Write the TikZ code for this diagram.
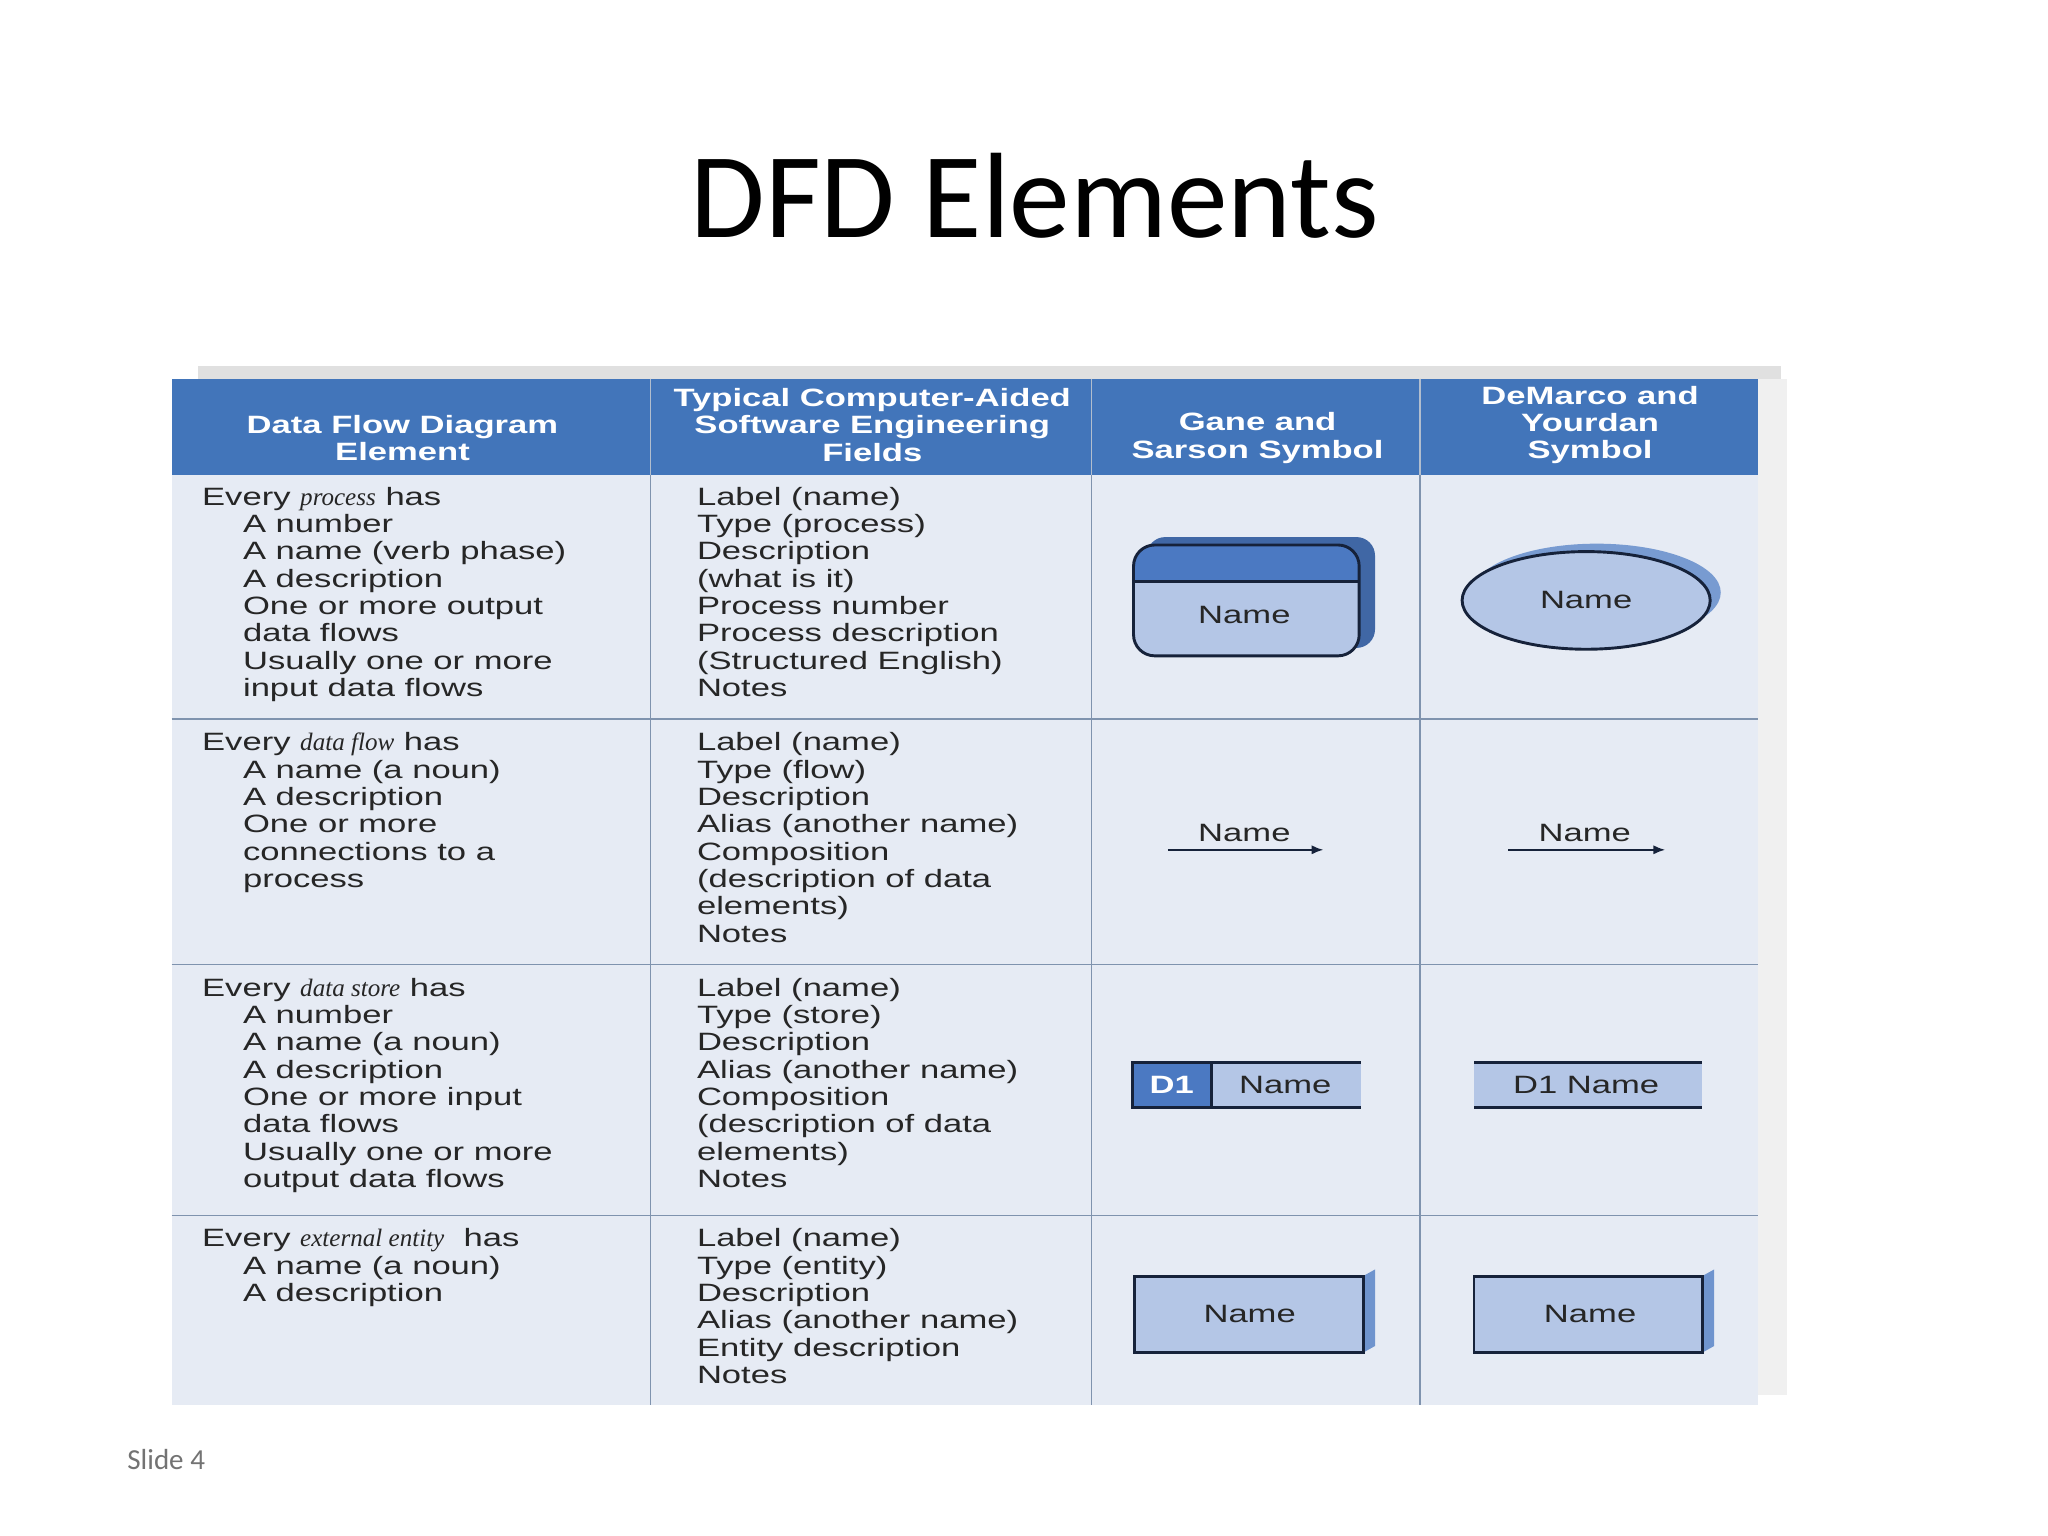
\documentclass[tikz,border=0pt]{standalone}
\usepackage{fontspec}
\setmainfont{Carlito}
\newfontfamily\tbl[FakeStretch=1.38]{Liberation Sans}
\newfontfamily\tit[]{Liberation Serif}
\usetikzlibrary{shapes.geometric,arrows.meta}
\definecolor{hdr}{HTML}{4275BA}
\definecolor{cellbg}{HTML}{E6EBF4}
\definecolor{grid}{HTML}{7F93AE}
\definecolor{symfill}{HTML}{B4C6E6}
\definecolor{symdark}{HTML}{4B79C2}
\definecolor{symedge}{HTML}{16223A}
\newcommand{\itx}[1]{{\tit\itshape #1}}
\tikzset{
 body/.style={anchor=north west,align=left,inner sep=0pt,font=\tbl\fontsize{19}{20.7}\selectfont,text=black!85},
 head/.style={align=center,inner sep=0pt,font=\tbl\bfseries\fontsize{19}{20.7}\selectfont,text=white},
 symtxt/.style={inner sep=0pt,font=\tbl\fontsize{19}{20.7}\selectfont,text=black!85},
 edge3d/.style={fill=symdark!85!black},
 outl/.style={draw=symedge,line width=2.2pt}
}
\begin{document}
\begin{tikzpicture}[x=1pt,y=-1pt]
\useasboundingbox (0,0) rectangle (1552,1164);
\fill[white] (0,0) rectangle (1552,1164);
\node[font=\fontsize{92}{100}\selectfont] (title) at (784,148) {DFD Elements};
\node[font=\fontsize{22}{24}\selectfont,text=black!55,anchor=west] (slide) at (93,1106) {Slide 4};
% shadow
\fill[black!12] (150,277) rectangle (1350,1057);
\fill[black!6] (1332,287) rectangle (1354,1057);
% table
\fill[cellbg] (130,287) rectangle (1332,1065);
\fill[hdr] (130,287) rectangle (1332,360);
\foreach \x in {493,827,1076}{\draw[grid,line width=1.2pt] (\x,287) -- (\x,1065);}
\draw[grid!60,line width=1.2pt] (493,287) -- (493,360) (827,287)--(827,360) (1076,287)--(1076,360);
\foreach \y in {545,731,921}{\draw[grid,line width=1.2pt] (130,\y) -- (1332,\y);}
% headers
\node[head] (h1) at (305,332) {Data Flow Diagram\\Element};
\node[head] (h2) at (661,322) {Typical Computer-Aided\\Software Engineering\\Fields};
\node[head] (h3) at (953,332) {Gane and\\Sarson Symbol};
\node[head] (h4) at (1205,322) {DeMarco and\\Yourdan\\Symbol};
% column 1
\node[body] (c11) at (153,369) {Every \itx{process} has\\
\hspace*{31pt}A number\\
\hspace*{31pt}A name (verb phase)\\
\hspace*{31pt}A description\\
\hspace*{31pt}One or more output\\
\hspace*{31pt}data flows\\
\hspace*{31pt}Usually one or more\\
\hspace*{31pt}input data flows};
\node[body] (c12) at (153,555) {Every \itx{data flow} has\\
\hspace*{31pt}A name (a noun)\\
\hspace*{31pt}A description\\
\hspace*{31pt}One or more\\
\hspace*{31pt}connections to a\\
\hspace*{31pt}process};
\node[body] (c13) at (153,741) {Every \itx{data store} has\\
\hspace*{31pt}A number\\
\hspace*{31pt}A name (a noun)\\
\hspace*{31pt}A description\\
\hspace*{31pt}One or more input\\
\hspace*{31pt}data flows\\
\hspace*{31pt}Usually one or more\\
\hspace*{31pt}output data flows};
\node[body] (c14) at (153,931) {Every \itx{external entity}\ \ has\\
\hspace*{31pt}A name (a noun)\\
\hspace*{31pt}A description};
% column 2
\node[body] (c21) at (528,369) {Label (name)\\Type (process)\\Description\\(what is it)\\Process number\\Process description\\(Structured English)\\Notes};
\node[body] (c22) at (528,555) {Label (name)\\Type (flow)\\Description\\Alias (another name)\\Composition\\(description of data\\elements)\\Notes};
\node[body] (c23) at (528,741) {Label (name)\\Type (store)\\Description\\Alias (another name)\\Composition\\(description of data\\elements)\\Notes};
\node[body] (c24) at (528,931) {Label (name)\\Type (entity)\\Description\\Alias (another name)\\Entity description\\Notes};
% process G&S
\fill[edge3d,rounded corners=14pt] (869,407) rectangle (1042,491);
\fill[symfill,rounded corners=16pt] (859,413) rectangle (1030,497);
\begin{scope}
\clip[rounded corners=16pt] (859,413) rectangle (1030,497);
\fill[symdark] (859,413) rectangle (1030,441);
\end{scope}
\draw[outl,rounded corners=16pt] (859,413) rectangle (1030,497);
\draw[outl] (859,441) -- (1030,441);
\node[symtxt] (p1) at (943,466) {Name};
% process DeMarco
\fill[symdark!75] (1210,449) ellipse [x radius=94,y radius=37];
\fill[symfill] (1202,455) ellipse [x radius=94,y radius=37];
\draw[outl] (1202,455) ellipse [x radius=94,y radius=37];
\node[symtxt] (p2) at (1202,455) {Name};
% flows
\coordinate (f1a) at (885,644); \coordinate (f1b) at (1003,644);
\draw[line width=1.6pt,symedge,-{Latex[length=9pt,width=7pt]}] (f1a) -- (f1b);
\node[symtxt] (f1) at (943,631) {Name};
\coordinate (f2a) at (1143,644); \coordinate (f2b) at (1262,644);
\draw[line width=1.6pt,symedge,-{Latex[length=9pt,width=7pt]}] (f2a) -- (f2b);
\node[symtxt] (f2) at (1201,631) {Name};
% data store G&S
\fill[symfill] (858,805) rectangle (1031,839);
\fill[symdark] (858,805) rectangle (918,839);
\draw[outl] (1031,805) -- (858,805) -- (858,839) -- (1031,839);
\draw[outl] (918,805) -- (918,839);
\node[symtxt,text=white,font=\tbl\bfseries\fontsize{19}{20.7}\selectfont] (d1) at (888,822) {D1};
\node[symtxt] (ds1) at (974,822) {Name};
% data store DeMarco
\fill[symfill] (1117,805) rectangle (1290,839);
\draw[outl] (1117,805) -- (1290,805) (1117,839) -- (1290,839);
\node[symtxt] (ds2) at (1202,822) {D1 Name};
% entities
\fill[symdark!80] (1033,967) -- (1042,962) -- (1042,1020) -- (1033,1025) -- cycle;
\fill[symfill] (860,967) rectangle (1033,1025);
\draw[outl] (860,967) rectangle (1033,1025);
\node[symtxt] (e1) at (947,996) {Name};
\fill[symdark!80] (1290,967) -- (1299,962) -- (1299,1020) -- (1290,1025) -- cycle;
\fill[symfill] (1117,967) rectangle (1290,1025);
\draw[outl] (1117,967) rectangle (1290,1025);
\node[symtxt] (e2) at (1205,996) {Name};
\end{tikzpicture}
\end{document}
